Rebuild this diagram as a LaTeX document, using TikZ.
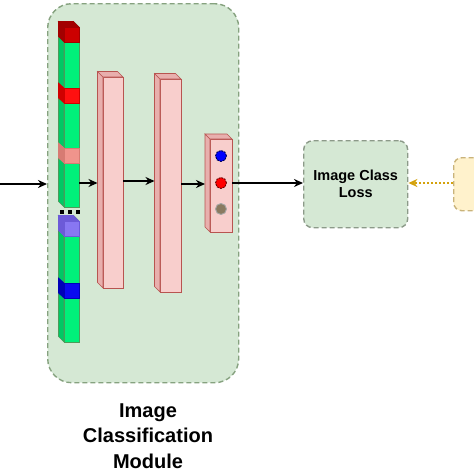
\documentclass[tikz,border=0pt]{standalone}
\usepackage{fontspec}
\setmainfont{Liberation Sans}
\usetikzlibrary{arrows.meta}
\definecolor{modfill}{HTML}{D5E8D4}
\definecolor{modline}{HTML}{86A27F}
\definecolor{lossline}{HTML}{8C9A89}
\definecolor{pinkf}{HTML}{F8CECC}
\definecolor{pinks}{HTML}{E8AFAD}
\definecolor{pinkl}{HTML}{B85450}
\definecolor{greenf}{HTML}{00F07A}
\definecolor{greens}{HTML}{00C864}
\definecolor{greenl}{HTML}{4E9A5A}
\definecolor{dred}{HTML}{CC0000}
\definecolor{dreds}{HTML}{A30000}
\definecolor{bred}{HTML}{FF1010}
\definecolor{breds}{HTML}{D00000}
\definecolor{salm}{HTML}{F0948C}
\definecolor{salms}{HTML}{D77B73}
\definecolor{purp}{HTML}{8877F2}
\definecolor{purps}{HTML}{6C5AD8}
\definecolor{blu}{HTML}{0A0AF0}
\definecolor{blus}{HTML}{0000B8}
\definecolor{yelf}{HTML}{FFF2CC}
\definecolor{yell}{HTML}{C9B37A}
\definecolor{gold}{HTML}{D4A20C}
\definecolor{brownc}{HTML}{8A7A60}
\tikzset{
  dsh/.style={dash pattern=on 5pt off 3pt},
  modbox/.style={draw=modline, fill=modfill, dsh, line width=1.4pt, rounded corners=24pt},
  lossbox/.style={draw=lossline, fill=modfill, dsh, line width=1.4pt, rounded corners=9pt, align=center, font=\bfseries\fontsize{14.5}{17}\selectfont},
  yelbox/.style={draw=yell, fill=yelf, dsh, line width=1.4pt, rounded corners=8pt},
  conn/.style={-{Stealth[length=9pt,width=8pt]}, line width=1.6pt, black},
  dotconn/.style={-{Stealth[length=9pt,width=8pt]}, line width=2pt, gold, dash pattern=on 2pt off 2pt},
  face/.style={inner sep=0pt, outer sep=0pt, line width=0.6pt},
  circ/.style={circle, inner sep=0pt, minimum size=11pt, line width=0.9pt},
  lbl/.style={align=center, font=\bfseries\fontsize{20}{25.5}\selectfont}
}
% 3D cube: #1 name, #2 x1, #3 y1 (front top-left), #4 x2, #5 y2 (front bottom-right), #6 front fill, #7 side fill, #8 line, #9 depth
\newcommand{\mycube}[9]{%
  \node[face, draw=#8, fill=#6, minimum width=#4pt-#2pt, minimum height=#5pt-#3pt, anchor=north west] (#1) at (#2,#3) {};
  \filldraw[fill=#7, draw=#8, line width=0.6pt] (#1.north west) -- ++(-#9,-#9) -- ++(0,#5-#3) -- (#1.south west) -- cycle;
  \filldraw[fill=#7, draw=#8, line width=0.6pt] (#1.north west) -- ++(-#9,-#9) -- ++(#4-#2,0) -- (#1.north east) -- cycle;
}
\newcommand{\myseg}[8]{%
  \node[face, draw=#8, fill=#6, minimum width=#4pt-#2pt, minimum height=#5pt-#3pt, anchor=north west] (#1) at (#2,#3) {};
  \filldraw[fill=#7, draw=#8, line width=0.6pt] (#1.north west) -- ++(-5.5,-5) -- ++(0,#5-#3) -- (#1.south west) -- cycle;
}
\begin{document}
\begin{tikzpicture}[x=1pt,y=-1pt]
\useasboundingbox (0,0) rectangle (474,474);
% module
\node[modbox, minimum width=191pt, minimum height=379pt, anchor=north west] (mod) at (47,3) {};
% column 1 upper
\mycube{c1a}{64}{27}{79}{207}{greenf}{greens}{greenl}{5.5}
\mycube{c1top}{64}{27}{79}{42}{dred}{dreds}{dreds}{5.5}
\myseg{c1r}{64}{88}{79}{103}{bred}{breds}{breds}
\myseg{c1s}{64}{148}{79}{163}{salm}{salms}{salms}
% dots
\foreach \xx/\nm in {62/d1,70/d2,78/d3}{\node[fill=black, inner sep=0pt, minimum size=3.5pt] (\nm) at (\xx,212) {};}
% column 1 lower
\mycube{c1b}{64}{221}{79}{342}{greenf}{greens}{greenl}{5.5}
\mycube{c1p}{64}{221}{79}{236}{purp}{purps}{purps}{5.5}
\myseg{c1u}{64}{283}{79}{298}{blu}{blus}{blus}
% pink bars
\mycube{c2}{103}{77}{123}{288}{pinkf}{pinks}{pinkl}{5.5}
\mycube{c3}{160}{79}{181}{292}{pinkf}{pinks}{pinkl}{5.5}
\mycube{c4}{210}{139}{232}{232}{pinkf}{pinks}{pinkl}{5}
% circles
\node[circ, fill=blue, draw=black!70!blue, dash pattern=on 2pt off 1pt] (cb) at (221,156) {};
\node[circ, fill=red, draw=black!60!red, dash pattern=on 2pt off 1pt] (cr) at (221,183) {};
\node[circ, fill=brownc, draw=black!35] (cg) at (221,209) {};
% loss and yellow boxes
\node[lossbox, minimum width=104pt, minimum height=87pt, anchor=north west] (loss) at (303,140) {Image Class\\Loss};
\node[yelbox, minimum width=60pt, minimum height=53pt, anchor=north west] (yel) at (453,157) {};
% arrows
\coordinate (in) at (0,184);
\draw[conn] (in) -- (mod.west |- in);
\draw[conn] (c1a.east |- 0,183) -- ([xshift=-5.5pt]c2.west |- 0,183);
\draw[conn] (c2.east |- 0,181) -- ([xshift=-5.5pt]c3.west |- 0,181);
\draw[conn] (c3.east |- 0,184) -- ([xshift=-5pt]c4.west |- 0,184);
\draw[conn] (c4.east |- 0,183) -- (loss.west |- 0,183);
\draw[dotconn] (yel.west |- 0,183) -- (loss.east |- 0,183);
% label
\node[lbl] (title) at (148,436) {Image\\Classification\\Module};
\end{tikzpicture}
\end{document}
